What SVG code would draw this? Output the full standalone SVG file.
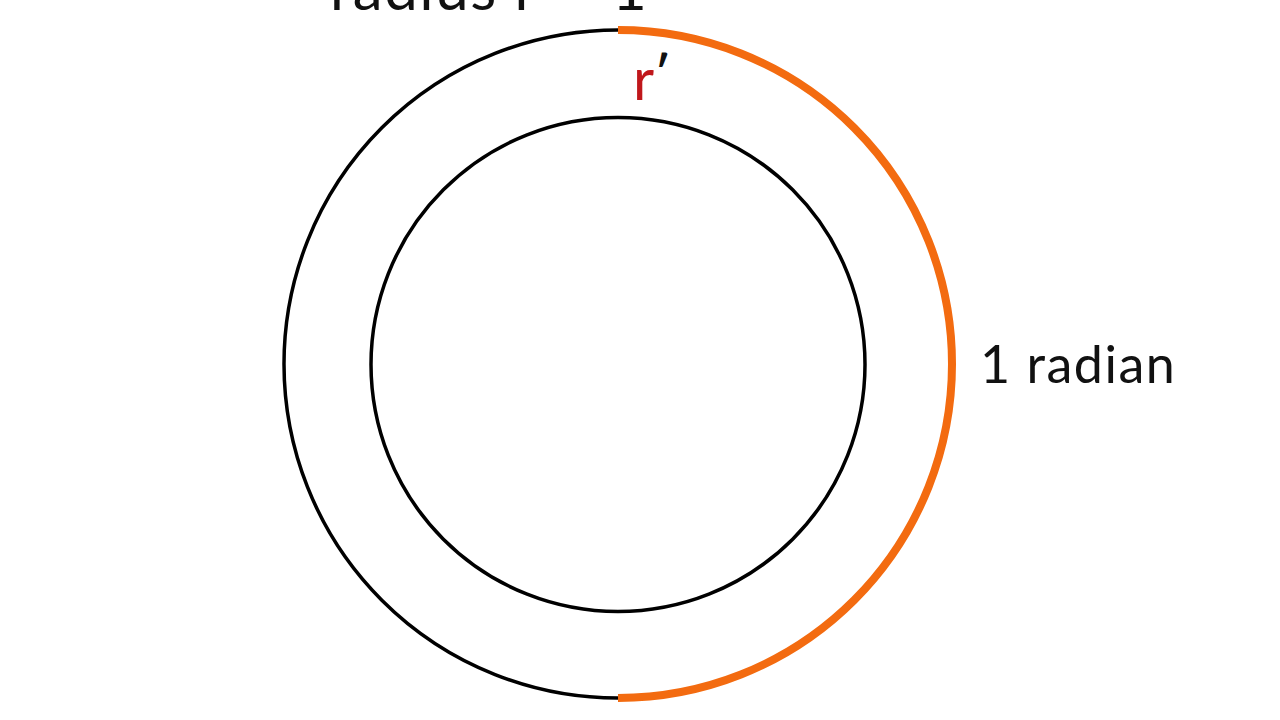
<svg xmlns="http://www.w3.org/2000/svg" width="1280" height="720" viewBox="0 0 1280 720">
<style>
.c{fill:none;stroke:#000;stroke-width:3.5}
.t{font-family:Lato,"Noto Sans","Liberation Sans",sans-serif;font-size:52px;fill:#111;letter-spacing:1.5px}
.red{fill:#C0171B}
</style>
<rect width="1280" height="720" fill="#fff"/>
<g id="outer"><circle class="c" cx="618" cy="364" r="334"/></g>
<g id="inner"><circle class="c" cx="618" cy="364.5" r="247"/></g>
<g id="arc"><path d="M618 30 A334 334 0 0 1 618 698" fill="none" stroke="#F36B10" stroke-width="8"/></g>
<g id="labels">
<text class="t" x="330" y="10" style="font-size:60px">radius r</text>
<text class="t" x="612" y="10" style="font-size:60px">1</text>
<text class="t red" x="633" y="100" style="font-size:58px">r</text>
<text class="t" x="655" y="88" style="font-size:44px;font-weight:bold">′</text>
<text class="t" x="980" y="383">1 radian</text>
</g>
</svg>
